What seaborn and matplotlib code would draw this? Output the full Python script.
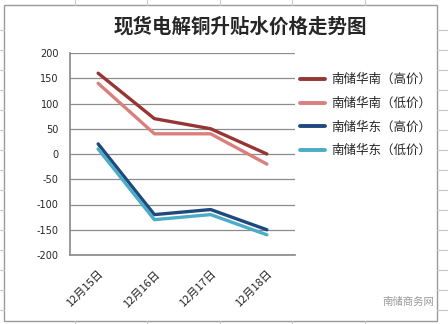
import matplotlib
matplotlib.use("Agg")
import matplotlib.pyplot as plt
import seaborn as sns
import pandas as pd
from matplotlib.patches import Rectangle
from matplotlib.lines import Line2D

dates = ["12月15日", "12月16日", "12月17日", "12月18日"]
series_names = ["南储华南（高价）", "南储华南（低价）", "南储华东（高价）", "南储华东（低价）"]
south_high = [160, 70, 50, 0]
south_low = [140, 40, 40, -20]
east_high = [20, -120, -110, -150]
east_low = [10, -130, -120, -160]
yticks = [200, 150, 100, 50, 0, -50, -100, -150, -200]
colors = ["#963634", "#d9807d", "#1f497d", "#4bacc6"]
title = "现货电解铜升贴水价格走势图"

sns.set_theme(style="white")
plt.rcParams['font.family'] = ['Noto Sans CJK SC', 'DejaVu Sans']

rows = []
for name, vals in zip(series_names, [south_high, south_low, east_high, east_low]):
    for d, v in zip(dates, vals):
        rows.append({"date": d, "value": v, "series": name})
df = pd.DataFrame(rows)

fig = plt.figure(figsize=(4.48, 3.24), dpi=100)
fig.patch.set_facecolor("white")
ax = fig.add_axes([70/448, 1-255/324, 225/448, 202/324])

sns.lineplot(data=df, x="date", y="value", hue="series", palette=colors,
             linewidth=2.4, ax=ax, legend=False, sort=False)

ax.set_xlim(-0.5, 3.5)
ax.set_ylim(-200, 200)
ax.set_yticks(yticks)
ax.set_yticklabels([str(t) for t in yticks], fontsize=7, family=['DejaVu Sans'])
ax.yaxis.grid(True, color="#8c8c8c", linewidth=0.9)
ax.set_axisbelow(True)
ax.tick_params(axis='y', length=0, pad=8)
ax.tick_params(axis='x', length=0, pad=10)
ax.set_xticks(range(len(dates)))
ax.set_xticklabels(dates, rotation=45, ha='right', rotation_mode='anchor', fontsize=8)
for lab in ax.get_xticklabels():
    lab.set_color("#222222")
ax.set_xlabel("")
ax.set_ylabel("")
for s in ["top", "right"]:
    ax.spines[s].set_visible(False)
ax.spines["left"].set_color("#8c8c8c")
ax.spines["bottom"].set_color("#8c8c8c")

handles = [Line2D([0], [0], color=c, linewidth=2.8) for c in colors]
fig.legend(handles, series_names, loc="upper left",
           bbox_to_anchor=(289/448, 1-62/324), frameon=False,
           fontsize=9, handlelength=2.0, handletextpad=0.45, labelspacing=0.85)

fig.text(240/448, 1-27/324, title, ha="center", va="center",
         fontsize=14, fontweight="bold")

# spreadsheet frame
fig.patches.append(Rectangle((4/448, 1-321/324), 433/448, 316/324,
                             transform=fig.transFigure, fill=False,
                             edgecolor="#9a9a9a", linewidth=1))
for x in [75, 147, 220, 292, 365]:
    fig.lines.append(Line2D([x/448, x/448], [1-5/324, 1.0], transform=fig.transFigure,
                            color="#c8c8c8", linewidth=0.8))
    fig.lines.append(Line2D([x/448, x/448], [0, 1-321/324], transform=fig.transFigure,
                            color="#c8c8c8", linewidth=0.8))
for y in [30, 50, 70, 90, 110, 130, 150, 170, 190, 210, 230, 250, 270, 290, 310]:
    fig.lines.append(Line2D([0, 4/448], [1-y/324, 1-y/324], transform=fig.transFigure,
                            color="#c8c8c8", linewidth=0.8))
    fig.lines.append(Line2D([437/448, 1], [1-y/324, 1-y/324], transform=fig.transFigure,
                            color="#c8c8c8", linewidth=0.8))

fig.text(382/448, 1-302/324, "南储商务网", ha="left", va="center",
         fontsize=7.5, color="#9a9a9a")

fig.savefig("out.png", dpi=100)
